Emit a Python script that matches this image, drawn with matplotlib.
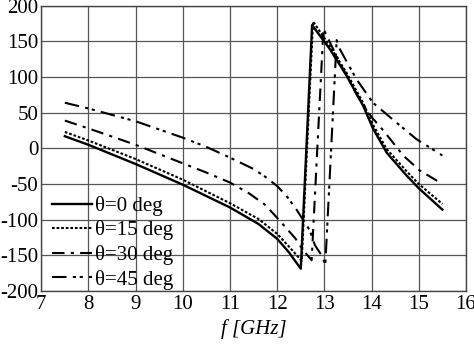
import matplotlib.pyplot as plt

plt.rcParams['font.family'] = ['Liberation Serif', 'DejaVu Serif']
plt.rcParams['axes.unicode_minus'] = False

# phase vs frequency for several incidence angles
f_0 = [7.5, 8, 9, 10, 11, 11.6, 12.0, 12.25, 12.5, 12.74, 13.12, 13.47, 13.82, 14.03, 14.32, 14.74, 15.0, 15.5]
ph_0 = [17, 5, -22, -51, -83, -106, -127, -146, -169, 173, 139, 102, 60, 28, -6, -38, -56, -86]

f_15 = [7.5, 8, 9, 10, 11, 11.6, 12.0, 12.25, 12.52, 12.76, 13.12, 13.47, 13.82, 14.03, 14.32, 14.74, 15.0, 15.5]
ph_15 = [23, 11, -15, -44, -77, -99, -120, -138, -158, 178, 143, 106, 64, 33, -1, -32, -50, -78]

f_30 = [7.5, 8, 9, 10, 10.5, 11, 11.4, 11.74, 12.02, 12.38, 12.55, 12.73, 12.98, 13.05, 13.33, 13.68, 14.0, 14.25, 14.67, 15.02, 15.5]
ph_30 = [39, 28, 5, -21, -34, -48, -63, -79, -99, -126, -143, -157, 168, 158, 120, 76, 44, 25, -10, -31, -50]

f_45 = [7.5, 8, 9, 10, 10.5, 11, 11.5, 11.75, 12.0, 12.2, 12.41, 12.69, 12.8, 12.94, 13.02, 13.26, 13.33, 13.68, 14.03, 14.53, 14.95, 15.5]
ph_45 = [64, 56, 38, 15, 2, -13, -29, -40, -53, -67, -86, -115, -136, -150, -163, 152, 139, 97, 64, 36, 13, -10]

labels = ['θ=0 deg', 'θ=15 deg', 'θ=30 deg', 'θ=45 deg']

fig = plt.figure(figsize=(4.74, 3.45), dpi=100)
ax = fig.add_axes([0.087, 0.157, 0.896, 0.826])

ax.plot(f_0, ph_0, color='black', lw=1.7, linestyle='-', label=labels[0])
ax.plot(f_15, ph_15, color='black', lw=1.5, linestyle=(0, (1.3, 0.9)), label=labels[1])
ax.plot(f_30, ph_30, color='black', lw=1.5, linestyle=(0, (6, 3, 1.5, 3)), label=labels[2])
ax.plot(f_45, ph_45, color='black', lw=1.5, linestyle=(0, (7, 3, 1.5, 1.8, 1.5, 3)), label=labels[3])

ax.set_xlim(7, 16)
ax.set_ylim(-200, 200)
ax.set_xticks(range(7, 17))
ax.set_yticks(range(-200, 201, 50))
ax.grid(True, color='#555555', lw=0.9)
ax.tick_params(length=0, labelsize=15, pad=2)
ax.tick_params(axis='x', pad=3)
for s in ax.spines.values():
    s.set_color('#444444')
    s.set_linewidth(1.0)

ax.set_xlabel('f [GHz]', fontsize=15, style='italic', labelpad=4)

ax.legend(loc='lower left', frameon=False, fontsize=15, handlelength=1.9,
          handletextpad=0.15, labelspacing=0.22, borderaxespad=0.0,
          bbox_to_anchor=(0.006, -0.025))

fig.savefig('out.png', dpi=100)
